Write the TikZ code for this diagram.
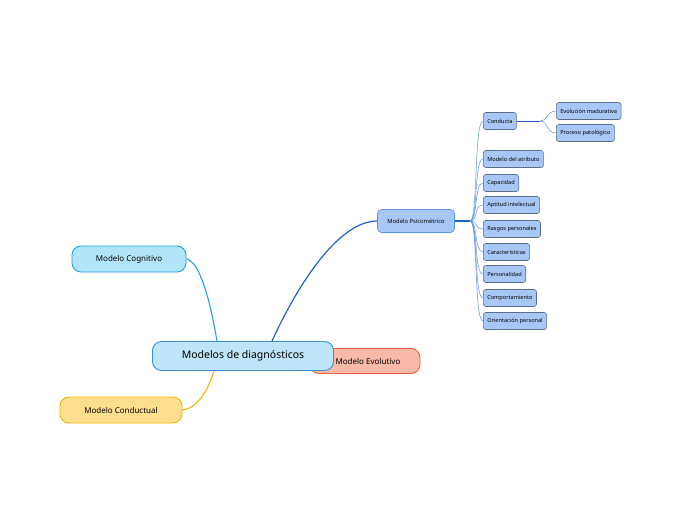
\documentclass[tikz,border=0pt]{standalone}
\usepackage{fontspec}
\setmainfont{Noto Sans}
\definecolor{cblue}{HTML}{BDE6FB}\definecolor{cbord}{HTML}{3A8FD0}
\definecolor{sblue}{HTML}{A7C7F7}\definecolor{sbord}{HTML}{5B6E86}
\definecolor{evo}{HTML}{F8B9A6}\definecolor{evob}{HTML}{E8643C}
\definecolor{cog}{HTML}{B3E5FA}\definecolor{cogb}{HTML}{1EA3E0}
\definecolor{con}{HTML}{FFDE8F}\definecolor{conb}{HTML}{F5B400}
\definecolor{psl}{HTML}{1F5FCC}\definecolor{thin}{HTML}{5C93E0}
\tikzset{
 main/.style={draw, line width=0.9pt, rounded corners=9pt, font=\bfseries\fontsize{8}{9}\selectfont, minimum height=26pt, inner xsep=8pt},
 leaf/.style={draw=sbord, fill=sblue, line width=0.6pt, rounded corners=2.5pt, font=\fontsize{5.6}{6}\selectfont, minimum height=17pt, inner xsep=4pt, anchor=west},
 thinl/.style={draw=thin, line width=0.5pt},
}
\begin{document}
\begin{tikzpicture}[x=1pt,y=-1pt]
\useasboundingbox (0,0) rectangle (697,520);
\node[main, draw=evob, fill=evo, minimum width=110pt, minimum height=25pt] (evo) at (365,361) {\hspace*{6pt}Modelo Evolutivo};
\node[main, draw=cogb, fill=cog, minimum width=114pt] (cog) at (129,259) {Modelo Cognitivo};
\node[main, draw=conb, fill=con, minimum width=122pt] (cond) at (121,410) {Modelo Conductual};
\node[main, draw=cbord, fill=cblue, minimum width=181pt, minimum height=29pt, font=\bfseries\fontsize{10.5}{12}\selectfont] (c) at (243,356) {Modelos de diagnósticos};
\node[draw=thin, fill=sblue, line width=0.6pt, rounded corners=4pt, font=\fontsize{5.8}{7}\selectfont, minimum width=77pt, minimum height=23pt] (psi) at (416,221) {Modelo Psicométrico};
\draw[cogb, line width=1.1pt] (cog.east) .. controls (200,262) and (210,300) .. ([xshift=-26pt]c.north);
\draw[conb, line width=1.1pt] (cond.east) .. controls (198,408) and (208,390) .. ([xshift=-29pt]c.south);
\draw[psl, line width=1.2pt] ([xshift=29pt]c.north) .. controls (300,280) and (340,221) .. (psi.west);
\coordinate (hub) at (470,221);
\draw[psl, line width=1.4pt] (psi.east) -- (hub);
\foreach \n/\y/\t in {k1/121/Conducta,k2/159/Modelo del atributo,k3/183/Capacidad,k4/205/Aptitud intelectual,k5/229/Rasgos personales,k6/252/Características,k7/274/Personalidad,k8/298/Comportamiento,k9/321/Orientación personal}{
 \node[leaf] (\n) at (483,\y) {\t};
 \draw[thinl] (hub) .. controls (478,221) and (474,\y) .. (\n.west);
}
\node[leaf] (e1) at (556,111) {Evolución madurativa};
\node[leaf] (e2) at (556,133) {Proceso patológico};
\coordinate (h2) at (540,121);
\draw[psl, line width=1pt] (k1.east) -- (h2);
\draw[thinl] (h2) .. controls (548,121) and (546,111) .. (e1.west);
\draw[thinl] (h2) .. controls (548,121) and (546,133) .. (e2.west);
\end{tikzpicture}
\end{document}
